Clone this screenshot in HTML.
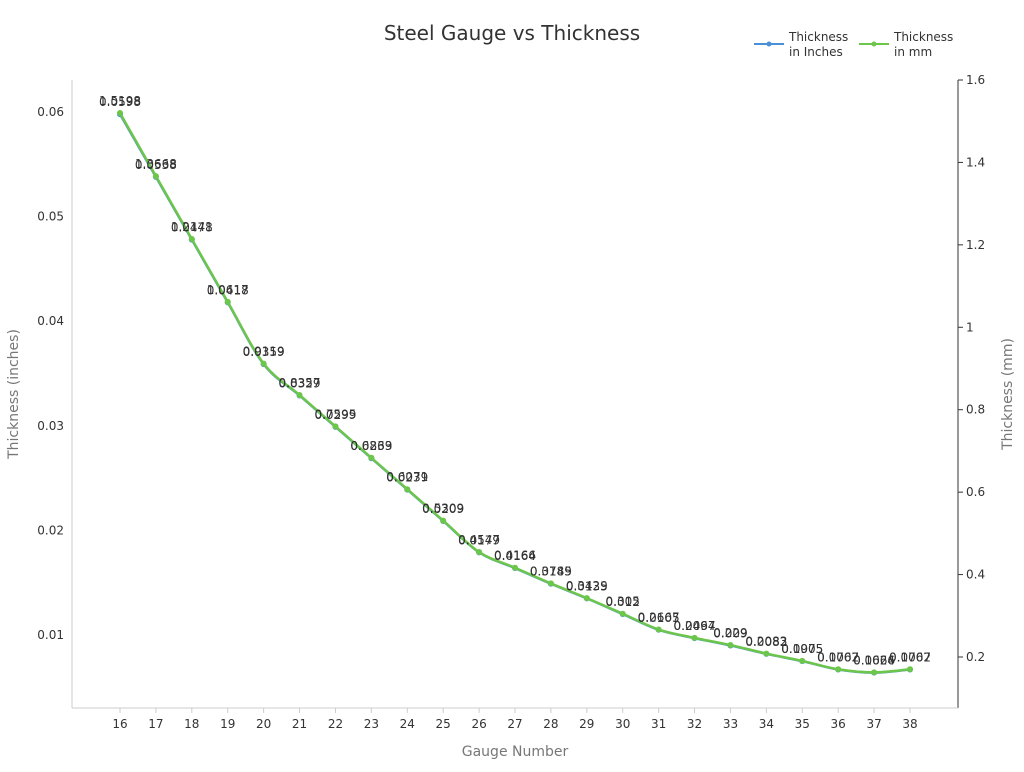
<!DOCTYPE html>
<html><head><meta charset="utf-8"><style>
body{margin:0;background:#fff;font-family:"DejaVu Sans","Liberation Sans",sans-serif;}
svg text{font-family:"DejaVu Sans","Liberation Sans",sans-serif;}
</style></head><body>
<svg id="chart" width="1024" height="768">
<text x="512" y="40" text-anchor="middle" font-size="20" fill="#333">Steel Gauge vs Thickness</text>
<g>
<line x1="754" y1="44" x2="784" y2="44" stroke="#4a90d9" stroke-width="2"/><circle cx="769" cy="44" r="2.5" fill="#4a90d9"/>
<text x="789" y="41" font-size="12" fill="#333">Thickness</text>
<text x="789" y="56" font-size="12" fill="#333">in Inches</text>
<line x1="859" y1="44" x2="889" y2="44" stroke="#6cc64a" stroke-width="2"/><circle cx="874" cy="44" r="2.5" fill="#6cc64a"/>
<text x="894" y="41" font-size="12" fill="#333">Thickness</text>
<text x="894" y="56" font-size="12" fill="#333">in mm</text>
</g>
<g id="axes"></g>
<g id="series"></g>
<g id="labels"></g>
</svg>
<script>
const gauges=[16,17,18,19,20,21,22,23,24,25,26,27,28,29,30,31,32,33,34,35,36,37,38];
const inches=[0.0598,0.0538,0.0478,0.0418,0.0359,0.0329,0.0299,0.0269,0.0239,0.0209,0.0179,0.0164,0.0149,0.0135,0.012,0.0105,0.0097,0.009,0.0082,0.0075,0.0067,0.0064,0.0067];
const mm=[1.5198,1.3668,1.2141,1.0617,0.9119,0.8357,0.7595,0.6833,0.6071,0.5309,0.4547,0.4166,0.3785,0.3429,0.305,0.2667,0.2464,0.229,0.2083,0.1905,0.1702,0.1626,0.1702];
const leftTicks=[0.01,0.02,0.03,0.04,0.05,0.06];
const rightTicks=[0.2,0.4,0.6,0.8,1,1.2,1.4,1.6];
const NS="http://www.w3.org/2000/svg";
const L=72,R=958,T=80,B=708;
const x=g=>120+(g-16)*(910-120)/22;
const yL=v=>739.6-v*10460;
const yR=v=>80+(1.6-v)*412.14;
function mk(tag,attrs,parent,text){const e=document.createElementNS(NS,tag);for(const k in attrs)e.setAttribute(k,attrs[k]);if(text!==undefined)e.textContent=text;parent.appendChild(e);return e;}
const ax=document.getElementById('axes');
let e;
e=mk('line',{x1:L,y1:T,x2:L,y2:B,stroke:'#ccc'},ax);


e=mk('line',{x1:R,y1:T,x2:R,y2:B,stroke:'#333'},ax);


e=mk('line',{x1:L,y1:B,x2:R,y2:B,stroke:'#ccc'},ax);


leftTicks.forEach(t=>{
 e=mk('text',{x:L-8,y:yL(t)+4,'text-anchor':'end','font-size':12,fill:'#333'},ax,String(t));
 
 
});
rightTicks.forEach(t=>{
 mk('line',{x1:R,y1:yR(t),x2:R+5,y2:yR(t),stroke:'#333'},ax);
 e=mk('text',{x:R+8,y:yR(t)+4,'font-size':12,fill:'#333'},ax,String(t));
 
 
});
gauges.forEach(g=>{
 mk('line',{x1:x(g),y1:B,x2:x(g),y2:B+5,stroke:'#ccc'},ax);
 e=mk('text',{x:x(g),y:B+20,'text-anchor':'middle','font-size':12,fill:'#333'},ax,String(g));
 
 
});
e=mk('text',{x:515,y:756,'text-anchor':'middle','font-size':14,fill:'#777'},ax,'Gauge Number');


e=mk('text',{x:18,y:394,'text-anchor':'middle','font-size':14,fill:'#777',transform:'rotate(-90 18 394)'},ax,'Thickness (inches)');


e=mk('text',{x:1012,y:394,'text-anchor':'middle','font-size':14,fill:'#777',transform:'rotate(-90 1012 394)'},ax,'Thickness (mm)');


function path(pts){let d='M'+pts[0][0]+','+pts[0][1];for(let i=0;i<pts.length-1;i++){const p0=pts[i-1]||pts[i],p1=pts[i],p2=pts[i+1],p3=pts[i+2]||p2;const c1=[p1[0]+(p2[0]-p0[0])/6,p1[1]+(p2[1]-p0[1])/6],c2=[p2[0]-(p3[0]-p1[0])/6,p2[1]-(p3[1]-p1[1])/6];d+=' C'+c1+' '+c2+' '+p2;}return d;}
const sr=document.getElementById('series'),lb=document.getElementById('labels');
[[inches,yL,'#4a90d9','inches'],[mm,yR,'#6cc64a','mm']].forEach(([vals,yf,col,nm])=>{
 const pts=gauges.map((g,i)=>[x(g),yf(vals[i])]);
 e=mk('path',{d:path(pts),fill:'none',stroke:col,'stroke-width':2.5},sr);
 
 
 pts.forEach((p,i)=>{
  e=mk('circle',{cx:p[0],cy:p[1],r:3,fill:col},sr);
  
  
  e=mk('text',{x:p[0],y:p[1]-8,'text-anchor':'middle','font-size':12,fill:'#333'},lb,String(vals[i]));
  
  
 });
});
</script>
</body></html>
